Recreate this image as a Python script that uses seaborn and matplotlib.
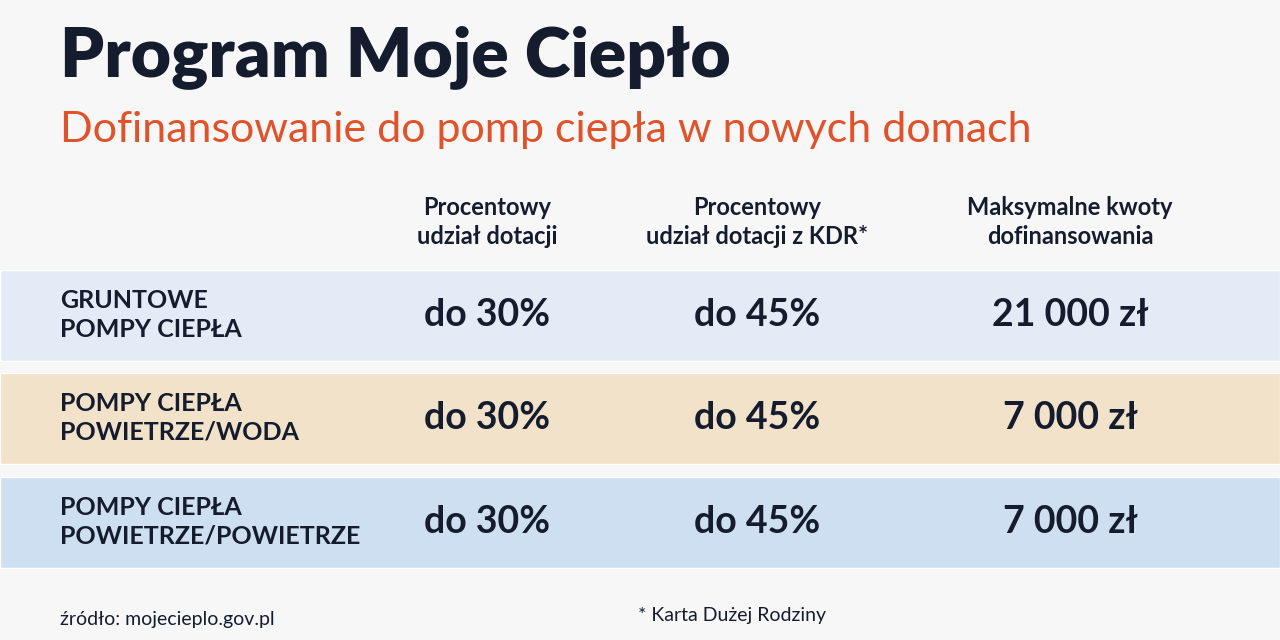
import matplotlib
matplotlib.use("Agg")
import matplotlib.pyplot as plt
import seaborn as sns

title = "Program Moje Ciepło"
subtitle = "Dofinansowanie do pomp ciepła w nowych domach"
headers = ["Procentowy\nudział dotacji", "Procentowy\nudział dotacji z KDR*", "Maksymalne kwoty\ndofinansowania"]
categories = ["GRUNTOWE\nPOMPY CIEPŁA", "POMPY CIEPŁA\nPOWIETRZE/WODA", "POMPY CIEPŁA\nPOWIETRZE/POWIETRZE"]
share = ["do 30%", "do 30%", "do 30%"]
share_kdr = ["do 45%", "do 45%", "do 45%"]
max_amount = ["21 000 zł", "7 000 zł", "7 000 zł"]
source = "źródło: mojecieplo.gov.pl"
footnote = "* Karta Dużej Rodziny"

sns.set_theme(style="white")
plt.rcParams["font.family"] = ["Lato", "DejaVu Sans"]
navy = "#141c2e"
row_colors = ["#e3ebf6", "#f1e2c9", "#cedff2"]
row_centers = [315, 418, 522]
col_x = [487, 757, 1070]

fig = plt.figure(figsize=(12.8, 6.4), dpi=100)
fig.patch.set_facecolor("#f7f7f8")
ax = fig.add_axes([0, 0, 1, 1])
ax.set_facecolor("#f7f7f8")

ax.barh(row_centers, [1280] * 3, height=91, color=row_colors, left=0)
ax.set_xlim(0, 1280)
ax.set_ylim(640, 0)
ax.axis("off")

ax.text(60, 57, title, fontsize=50, fontweight="heavy", color=navy, va="center")
ax.text(60, 130, subtitle, fontsize=31, fontweight="normal", color="#e0522a", va="center")
for x, h in zip(col_x, headers):
    ax.text(x, 222, h, fontsize=17, fontweight="bold", color=navy, ha="center", va="center", linespacing=1.3)
for y, c, a, b, m in zip(row_centers, categories, share, share_kdr, max_amount):
    ax.text(60, y, c, fontsize=18, fontweight="bold", color=navy, va="center", linespacing=1.3)
    for x, v in zip(col_x, [a, b, m]):
        ax.text(x, y, v, fontsize=27, fontweight="bold", color=navy, ha="center", va="center")
ax.text(60, 620, source, fontsize=14, color=navy, va="center")
ax.text(732, 616, footnote, fontsize=14, color=navy, ha="center", va="center")

fig.savefig("out.png", dpi=100, facecolor=fig.get_facecolor())
